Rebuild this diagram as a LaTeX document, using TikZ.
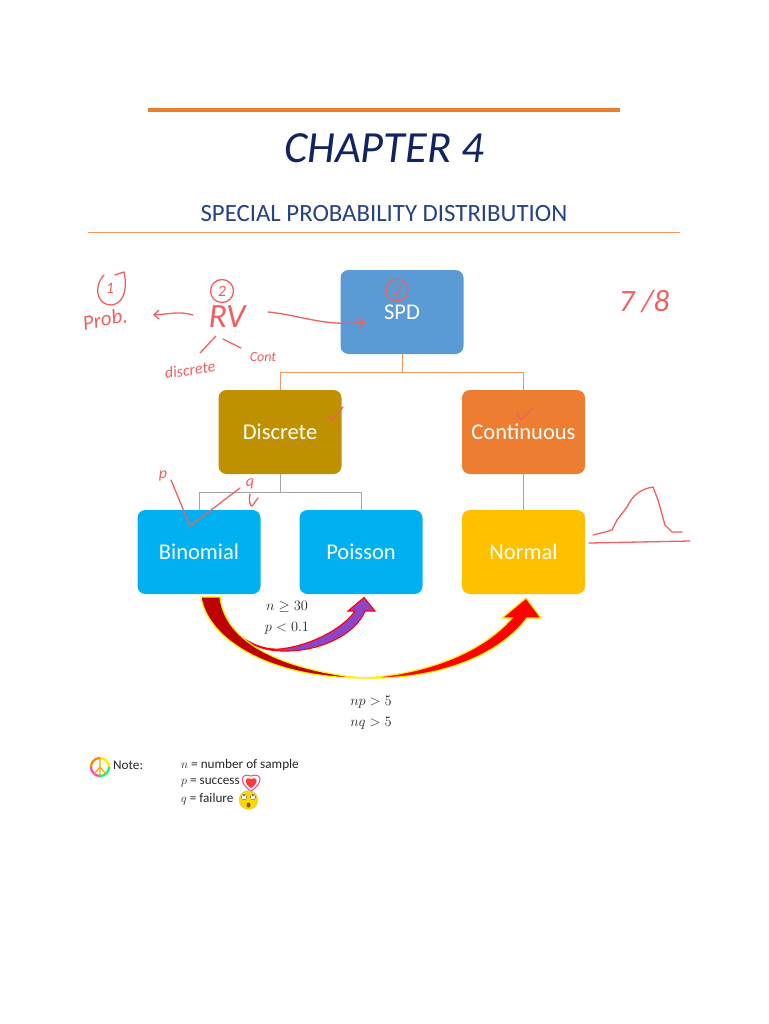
\documentclass[tikz,border=0pt]{standalone}
\usepackage{fontspec}
\setmainfont{Carlito}
\usetikzlibrary{arrows.meta, calc}
\definecolor{pen}{RGB}{240,96,96}
\definecolor{rule}{RGB}{237,125,49}
\definecolor{navy}{RGB}{15,36,96}
\definecolor{subnavy}{RGB}{38,66,130}
\definecolor{spdblue}{RGB}{91,155,213}
\definecolor{gold}{RGB}{191,144,0}
\definecolor{skyblue}{RGB}{0,176,240}
\definecolor{amber}{RGB}{255,192,0}
\definecolor{linkgrey}{RGB}{165,165,165}
\definecolor{linkorange}{RGB}{244,150,90}
\definecolor{violet}{RGB}{142,68,200}
\begin{document}
\begin{tikzpicture}[x=1pt, y=-1pt,
  box/.style={rounded corners=8pt, minimum width=123pt, minimum height=84pt,
              text=white, font=\fontsize{22.5}{26}\selectfont, inner sep=0pt},
  greylink/.style={draw=linkgrey, line width=1pt},
  orangelink/.style={draw=linkorange, line width=0.9pt},
  strokes/.style={draw=pen, line width=1.3pt, line cap=round, line join=round},
  hand/.style={text=pen, inner sep=0pt, font=\fontsize{#1}{#1}\selectfont\itshape},
  formula/.style={text=black!85, inner sep=0pt, font=\fontsize{15.5}{18}\selectfont},
  notetext/.style={anchor=west, text=black!85, inner sep=0pt, font=\fontsize{13.2}{15}\selectfont}
]
\useasboundingbox (0,0) rectangle (768,1024);
\fill[white] (0,0) rectangle (768,1024);

% title
\draw[rule, line width=3.5pt] (148,110) -- (620,110);
\node[text=navy, inner sep=0pt, font=\fontsize{44.5}{48}\selectfont\itshape] (title) at (384,148) {CHAPTER 4};
\node[text=subnavy, inner sep=0pt, font=\fontsize{24.8}{28}\selectfont] (subtitle) at (384,214) {SPECIAL PROBABILITY DISTRIBUTION};
\draw[linkorange, line width=0.8pt] (88,232) -- (680,232);

% boxes
\node[box, fill=spdblue] (spd) at (402,312) {SPD};
\node[box, fill=gold] (discrete) at (280,432) {Discrete};
\node[box, fill=rule] (continuous) at (523.5,432) {Continuous};
\node[box, fill=skyblue] (binomial) at (199,552) {Binomial};
\node[box, fill=skyblue] (poisson) at (361,552) {Poisson};
\node[box, fill=amber] (normal) at (523.5,552) {Normal};

\draw[orangelink] (spd.south) -- ++(0,18) -| (discrete.north);
\draw[orangelink] (spd.south) -- ++(0,18) -| (continuous.north);
\draw[greylink] (discrete.south) -- ++(0,18) -| (binomial.north);
\draw[greylink] (discrete.south) -- ++(0,18) -| (poisson.north);
\draw[greylink] (continuous) -- (normal);

% block arrows
\path[fill=violet, draw=red, line width=1.1pt] (243,638) .. controls (258,650) and (275,651) .. (283,651)
  .. controls (320,652) and (356,634) .. (365,611) -- (375,611) -- (364,597.5) -- (348,611) -- (355,611)
  .. controls (345,626) and (315,645) .. (280,649) .. controls (268,650) and (255,646) .. (243,638) -- cycle;
\path[fill=red!75!black, draw=yellow, line width=1.2pt] (201,597) .. controls (208,640) and (270,678) .. (363,678)
  .. controls (300,672) and (226,650) .. (220,597) -- cycle;
\path[fill=red, draw=yellow, line width=1.2pt] (363,678) .. controls (430,680) and (495,660) .. (527,618)
  -- (541,618) -- (526,598) -- (502,618) -- (512,618) .. controls (480,655) and (420,675) .. (363,678) -- cycle;

% conditions
\node[formula] (cond1) at (287,607) {$n \geq 30$};
\node[formula] (cond2) at (287,628) {$p < 0.1$};
\node[formula] (cond3) at (371,702) {$np > 5$};
\node[formula] (cond4) at (371,723) {$nq > 5$};

% note
\node[notetext] (note) at (113,765) {Note:};
\node[notetext] (noten) at (181,765) {$n$ = number of sample};
\node[notetext] (notep) at (181,782) {$p$ = success};
\node[notetext] (noteq) at (181,799) {$q$ = failure};

% peace sign
\foreach \startang/\col in {0/yellow!90!orange, 90/green!60!cyan, 180/magenta!70, 270/orange}
  \draw[\col, line width=2.2pt] (100,767) ++(\startang:9) arc[start angle=\startang, delta angle=-90, radius=9];
\draw[orange!70!yellow, line width=1.2pt] (100,758) -- (100,776) (100,767) -- (94,774) (100,767) -- (106,774);

% heart and face
\draw[pen!80!magenta, fill=white, line width=1pt] (251,791) .. controls (238,783) and (241,772) .. (251,776)
  .. controls (262,772) and (264,783) .. (251,791) -- cycle;
\fill[pink!30!red] (251,788) .. controls (243,783) and (245,776) .. (251,779)
  .. controls (258,776) and (259,783) .. (251,788) -- cycle;
\node[circle, fill=yellow!75!orange, draw=black!25, line width=0.3pt, minimum size=19pt, inner sep=0pt] (face) at (248.5,800) {};
\fill[white, draw=black!70, line width=0.3pt] (244,797) circle (2.7pt) (253,797) circle (2.7pt);
\fill[black!70] (244,795.5) circle (0.9pt) (253,795.5) circle (0.9pt);
\fill[brown!70!black] (248.5,805) ellipse (2pt and 2.5pt);

% pen notes
\node[hand=21, rotate=10] (prob) at (105,319) {Prob.};
\node[hand=16] (one) at (110,288) {1};
\draw[strokes] (104,275) .. controls (92,288) and (98,306) .. (112,305) .. controls (126,303) and (127,284) .. (124,272) -- (115,275);
\node[hand=34] (rv) at (227,317) {RV};
\node[hand=16] (two) at (222,291) {2};
\draw[strokes] (two) circle (11.5pt);
\node[hand=16, rotate=8] (disc) at (190,370) {discrete};
\node[hand=14] (cont) at (263,357) {Cont};
\node[hand=16] (three) at (397,290) {3};
\draw[strokes] (three) circle (11pt);
\node[hand=31] (frac) at (644,302) {7 /8};
\node[hand=16] (letp) at (163,476) {p};
\node[hand=16] (letq) at (250,484) {q};

\coordinate (probend) at (153,315);
\coordinate (spdend) at (365,322);
\coordinate (discend) at (200,353);
\coordinate (contend) at (241,348);
\coordinate (pq) at (190,526);
\draw[strokes, -{Straight Barb[length=5pt,width=9pt]}] (193,315) .. controls (180,311) and (170,314) .. (probend);
\draw[strokes, -{Straight Barb[length=5pt,width=11pt]}] (268,312) .. controls (300,315) and (325,327) .. (spdend);
\draw[strokes] (216,336) -- (discend);
\draw[strokes] (223,339) -- (contend);
\draw[strokes] (171,480) -- (pq);
\draw[strokes] (240,488) -- (pq);
\draw[strokes] (250,494) .. controls (248,500) and (251,508) .. (252,506) -- (258,498);
\draw[strokes] (327,415) -- (332,421) -- (343,407);
\draw[strokes] (517,413) -- (521,420) -- (533,408);
\draw[strokes] (593,535) -- (605,532) -- (612,530) -- (617,520) -- (627,507) .. controls (632,496) and (640,489) .. (653,487)
  -- (658,500) -- (665,525) -- (672,532) -- (682,532);
\draw[strokes] (589,543) -- (690,541);
\end{tikzpicture}
\end{document}
